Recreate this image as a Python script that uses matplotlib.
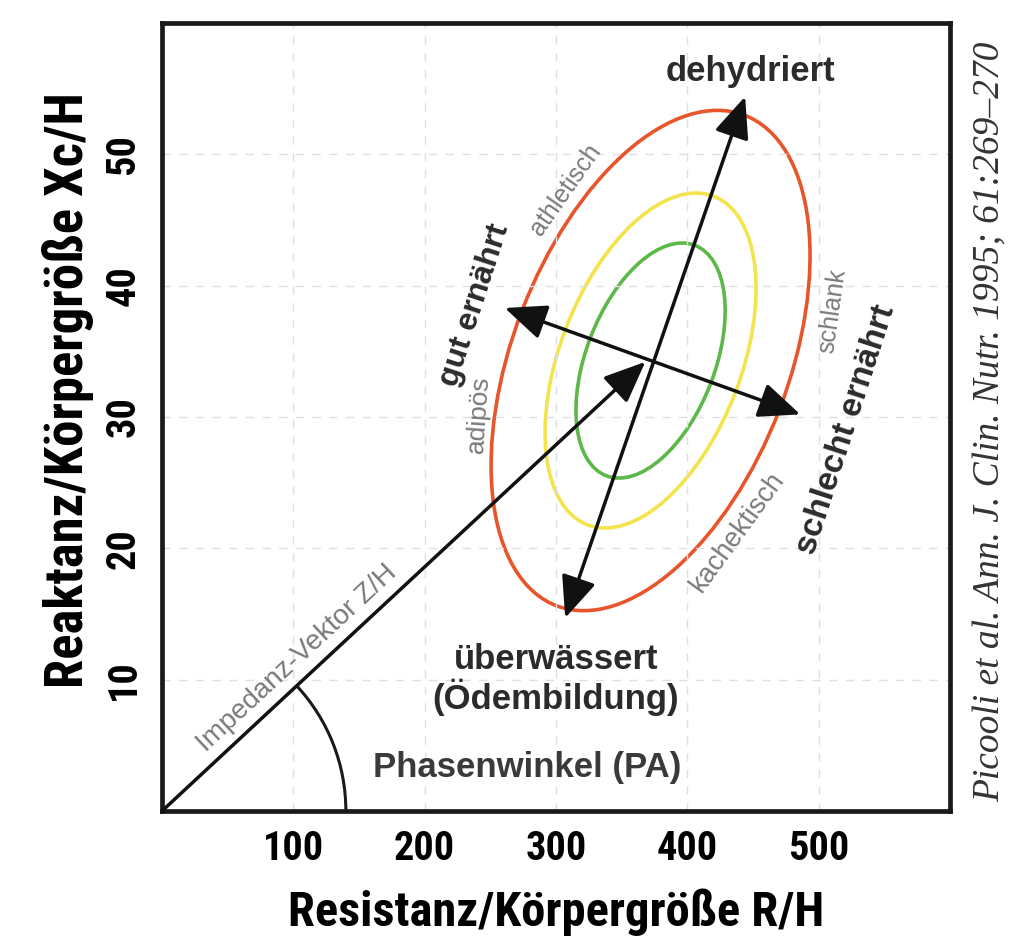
import matplotlib
matplotlib.use("Agg")
import matplotlib.pyplot as plt
from matplotlib.patches import Ellipse, Arc
from matplotlib.transforms import Affine2D

# axis ticks
x_ticks = [100, 200, 300, 400, 500]
y_ticks = [10, 20, 30, 40, 50]

# tolerance ellipses (centre R/H, Xc/H; semi-axes in Xc units, R scaled by 10; tilt deg)
ell_center = (372, 34.3)
ell_semi_major = [20.0, 13.4, 9.4]
ell_semi_minor = [10.5, 6.9, 4.9]
ell_angle = 69
ell_colors = ["#e8552b", "#f3e34c", "#5db84a"]

# arrows (tail, tip)
vector_tip = (368, 34.2)
hydration_ends = [(307, 14.7), (444, 54.4)]
nutrition_ends = [(261, 38.3), (486, 30.2)]
phase_radius = 14.0

fig = plt.figure(figsize=(10.24, 9.48), dpi=100)
ax = fig.add_axes([162 / 1024, 137 / 948, 788 / 1024, 788 / 948])
ax.set_xlim(0, 600)
ax.set_ylim(0, 60)

cond = ["Roboto Condensed", "DejaVu Sans"]
sans = ["Liberation Sans", "DejaVu Sans"]

ax.set_xticks(x_ticks)
ax.set_yticks(y_ticks)
ax.tick_params(length=0, pad=14)
for lab in ax.get_xticklabels():
    lab.set_fontfamily(cond)
    lab.set_fontweight("bold")
    lab.set_fontsize(29)
for lab in ax.get_yticklabels():
    lab.set_fontfamily(cond)
    lab.set_fontweight("bold")
    lab.set_fontsize(29)
    lab.set_rotation(90)
    lab.set_va("center")
ax.grid(True, color="#e0e0e0", ls=(0, (6, 6)), lw=1)
for s in ax.spines.values():
    s.set_linewidth(3.4)
    s.set_color("#1a1a1a")

ax.set_xlabel("Resistanz/Körpergröße R/H", fontsize=35, fontweight="bold",
              family=cond, va="center")
ax.xaxis.set_label_coords(0.5, -0.128)
ax.set_ylabel("Reaktanz/Körpergröße Xc/H", fontsize=38, fontweight="bold",
              family=cond, va="center")
ax.yaxis.set_label_coords(-0.119, 0.534)

# scaled transform so that geometry is drawn in equal units
scaled = Affine2D().scale(10, 1) + ax.transData
cx, cy = ell_center[0] / 10, ell_center[1]
for a, b, c in zip(ell_semi_major, ell_semi_minor, ell_colors):
    ax.add_patch(Ellipse((cx, cy), 2 * a, 2 * b, angle=ell_angle, fill=False,
                         edgecolor=c, lw=2.6, transform=scaled))

ax.add_patch(Arc((0, 0), 2 * phase_radius, 2 * phase_radius, theta1=0, theta2=42.9,
                 lw=2.2, color="#1a1a1a", transform=scaled))

head = "head_length=0.8,head_width=0.34"
arrow = dict(arrowstyle="-|>," + head, lw=2.5, color="#111111", mutation_scale=32,
             shrinkA=0, shrinkB=0)
ax.annotate("", xy=vector_tip, xytext=(0, 0), arrowprops=arrow)
ax.annotate("", xy=hydration_ends[1], xytext=hydration_ends[0],
            arrowprops=dict(arrow, arrowstyle="<|-|>," + head))
ax.annotate("", xy=nutrition_ends[1], xytext=nutrition_ends[0],
            arrowprops=dict(arrow, arrowstyle="<|-|>," + head))

dark = "#2b2b2b"
grey = "#7a7a7a"
ax.text(448, 56.3, "dehydriert", fontsize=25, fontweight="bold", color=dark,
        family=sans, ha="center", va="center")
ax.text(300, 10.0, "überwässert\n(Ödembildung)", fontsize=25, fontweight="bold",
        color=dark, family=sans, ha="center", va="center", linespacing=1.1)
ax.text(278, 3.3, "Phasenwinkel (PA)", fontsize=25, fontweight="bold", color="#3a3a3a",
        family=sans, ha="center", va="center")
ax.text(238, 38.5, "gut ernährt", fontsize=23, fontweight="bold", color=dark,
        family=sans, ha="center", va="center", rotation=72)
ax.text(521, 29.0, "schlecht ernährt", fontsize=24, fontweight="bold", color=dark,
        family=sans, ha="center", va="center", rotation=72)
ax.text(307, 47.3, "athletisch", fontsize=18, color=grey, family=sans,
        ha="center", va="center", rotation=55)
ax.text(510, 38.1, "schlank", fontsize=18, color=grey, family=sans,
        ha="center", va="center", rotation=82)
ax.text(241, 30.2, "adipös", fontsize=19, color=grey, family=sans,
        ha="center", va="center", rotation=86)
ax.text(438, 21.2, "kachektisch", fontsize=19.5, color=grey, family=sans,
        ha="center", va="center", rotation=54)
ax.text(103, 11.6, "Impedanz-Vektor Z/H", fontsize=20, color=grey, family=sans,
        ha="center", va="center", rotation=42.9)

fig.text(990 / 1024, 1 - 422 / 948, "Picooli et al. Ann. J. Clin. Nutr. 1995; 61:269–270",
         rotation=90, fontsize=27, style="italic", family=["Liberation Serif", "DejaVu Serif"],
         color="#333333", ha="center", va="center")

fig.savefig("out.png", dpi=100)
